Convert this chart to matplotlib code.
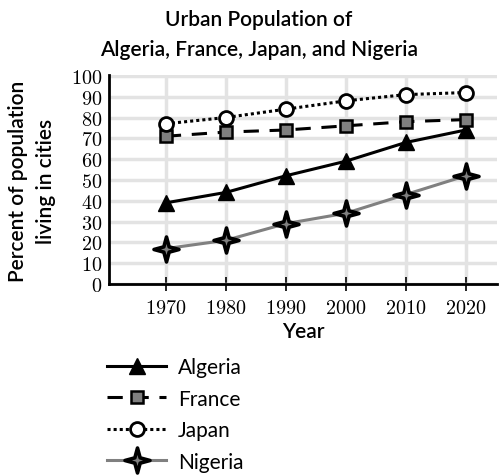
import matplotlib
matplotlib.use("Agg")
import matplotlib.pyplot as plt
from matplotlib.path import Path
import numpy as np

plt.rcParams["axes.formatter.use_mathtext"] = True

years = [1970, 1980, 1990, 2000, 2010, 2020]
algeria = [39, 44, 52, 59, 68, 74]
france = [71, 73, 74, 76, 78, 79]
japan = [77, 80, 84, 88, 91, 92]
nigeria = [17, 21, 29, 34, 43, 52]
yticks = list(range(0, 101, 10))

# 4-point star marker
r_out, r_in = 1.0, 0.3
verts = []
for i in range(8):
    ang = np.pi / 2 + i * np.pi / 4
    r = r_out if i % 2 == 0 else r_in
    verts.append((r * np.cos(ang), r * np.sin(ang)))
verts.append(verts[0])
codes = [Path.MOVETO] + [Path.LINETO] * 7 + [Path.CLOSEPOLY]
star4 = Path(verts, codes)

fig = plt.figure(figsize=(5.04, 4.77), dpi=100)
ax = fig.add_axes([0.216, 0.4025, 0.77, 0.4385])

ax.set_xlim(1960.5, 2025.2)
ax.set_ylim(0, 100.5)
ax.set_xticks(years)
ax.set_yticks(yticks)
ax.grid(True, color="#e3e3e3", linewidth=2.5)
ax.set_axisbelow(True)
for s in ["top", "right"]:
    ax.spines[s].set_visible(False)
for s in ["left", "bottom"]:
    ax.spines[s].set_linewidth(2)
ax.tick_params(axis="x", direction="inout", length=10, width=1.2, pad=6)
ax.tick_params(axis="y", length=0, pad=5)
for lbl in ax.get_xticklabels() + ax.get_yticklabels():
    lbl.set_fontfamily("cmr10")
    lbl.set_fontsize(14.5)

la, = ax.plot(years, algeria, color="black", lw=2.2, marker="^", ms=11,
              mfc="black", mec="black", label="Algeria")
lf, = ax.plot(years, france, color="black", lw=2.2, ls=(0, (5, 3.5)), marker="s", ms=9,
              mfc="#7f7f7f", mec="black", mew=1.8, label="France")
lj, = ax.plot(years, japan, color="black", lw=2.2, ls=(0, (1, 1)), marker="o", ms=10,
              mfc="white", mec="black", mew=2, label="Japan")
ln, = ax.plot(years, nigeria, color="#808080", lw=2.2, marker=star4, ms=18,
              mfc="#7f7f7f", mec="black", mew=2.6, label="Nigeria")

tkw = dict(fontfamily="Lato", fontweight="semibold", fontsize=15)
fig.text(0.514, 0.958, "Urban Population of", ha="center", va="center", **tkw)
fig.text(0.514, 0.895, "Algeria, France, Japan, and Nigeria", ha="center", va="center", **tkw)

fig.text(0.036, 0.62, "Percent of population", rotation=90, ha="center", va="center", **tkw)
fig.text(0.091, 0.62, "living in cities", rotation=90, ha="center", va="center", **tkw)
fig.text(0.601, 0.305, "Year", ha="center", va="center", **tkw)

leg = fig.legend(handles=[la, lf, lj, ln], loc="upper left",
                 bbox_to_anchor=(0.213, 0.249), frameon=False,
                 prop={"family": "Lato", "size": 15},
                 handlelength=2.8, labelspacing=0.55, handletextpad=0.6,
                 borderaxespad=0, borderpad=0)

fig.savefig("out.png", dpi=100)
